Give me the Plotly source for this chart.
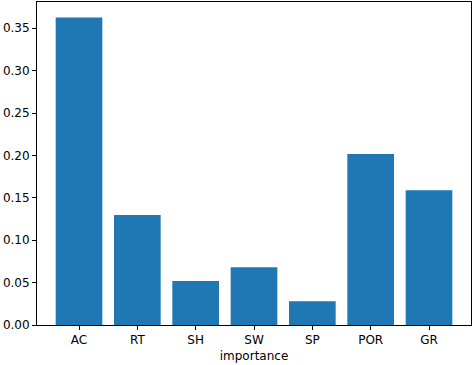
import plotly.graph_objects as go

features = ["AC", "RT", "SH", "SW", "SP", "POR", "GR"]
importance = [0.3627, 0.1297, 0.0519, 0.068, 0.028, 0.2017, 0.159]

fig = go.Figure()
fig.add_trace(go.Bar(
    x=features, y=importance, width=0.8,
    marker=dict(color="#1f77b4", line=dict(width=0)),
))

axis_common = dict(
    showline=True, linecolor="black", linewidth=1, mirror=True,
    ticks="outside", ticklen=4, tickwidth=1, tickcolor="black",
    showgrid=False, zeroline=False, automargin=False,
    tickfont=dict(family="DejaVu Sans", size=12, color="black"),
)

fig.update_layout(
    width=474, height=365,
    margin=dict(l=37, r=3, t=2, b=40, autoexpand=False),
    paper_bgcolor="white", plot_bgcolor="white",
    font=dict(family="DejaVu Sans", size=12, color="black"),
    showlegend=False,
    xaxis=dict(range=[-0.72, 6.72], title=dict(text="importance", standoff=5,
               font=dict(family="DejaVu Sans", size=12, color="black")), **axis_common),
    yaxis=dict(range=[0, 0.381], dtick=0.05, tickformat=".2f", **axis_common),
)

fig.write_html("out.html", config={"displayModeBar": False},
               post_script="document.body.style.margin='0';document.body.style.overflow='hidden';")
